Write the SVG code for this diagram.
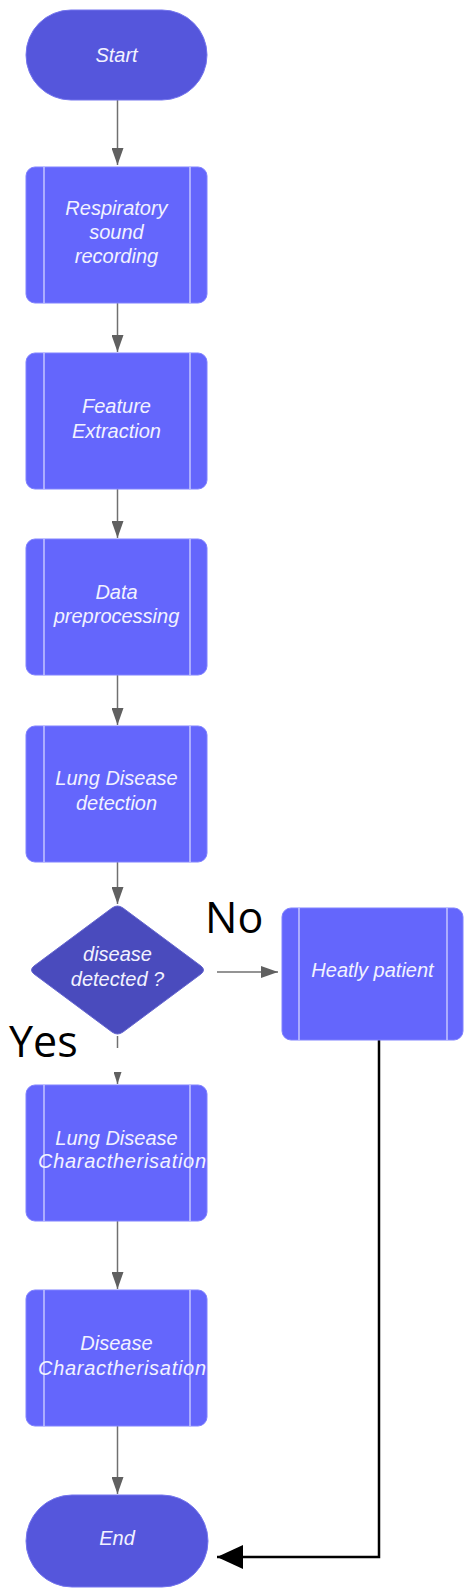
<svg xmlns="http://www.w3.org/2000/svg" width="474" height="1595" viewBox="0 0 474 1595">
<defs>
<style>
.term{fill:#5556dc;stroke:#7475ee;stroke-width:1}
.proc{fill:#6466fc;stroke:#8082ff;stroke-width:1}
.dec{fill:#4a4bbd;stroke:#6667d0;stroke-width:1}
.bar{stroke:#dcdcff;stroke-width:1.2}
.lbl{font-family:"Liberation Sans",Arial,sans-serif;font-style:italic;font-size:20px;fill:#f2f2ff;text-anchor:middle}
.big{font-family:"Open Sans","Liberation Sans",sans-serif;font-size:43px;fill:#000}
.gc{fill:none;stroke:#707070;stroke-width:1.5}
.bc{fill:none;stroke:#000;stroke-width:2.5}
</style>
<marker id="agH" viewBox="0 0 17 12" refX="17" refY="6" markerWidth="17" markerHeight="12" markerUnits="userSpaceOnUse" orient="auto">
<path d="M0,0 L17,6 L0,12 Z" fill="#606060"/>
</marker>
<marker id="ags" viewBox="0 0 12 8" refX="12" refY="4" markerWidth="12" markerHeight="8" markerUnits="userSpaceOnUse" orient="auto">
<path d="M0,0 L12,4 L0,8 Z" fill="#606060"/>
</marker>
<marker id="ab" viewBox="0 0 26 24" refX="26" refY="12" markerWidth="26" markerHeight="24" markerUnits="userSpaceOnUse" orient="auto">
<path d="M0,0 L26,12 L0,24 Z" fill="#000"/>
</marker>
</defs>
<rect width="474" height="1595" fill="#fff"/>

<g id="connectors">
<path class="gc" d="M117.5,100 V165" marker-end="url(#agH)"/>
<path class="gc" d="M117.5,303 V352" marker-end="url(#agH)"/>
<path class="gc" d="M117.5,489 V538" marker-end="url(#agH)"/>
<path class="gc" d="M117.5,675 V725" marker-end="url(#agH)"/>
<path class="gc" d="M117.5,862 V904" marker-end="url(#agH)"/>
<path class="gc" d="M217,972 H278" marker-end="url(#agH)"/>
<path class="gc" d="M117.5,1036 V1048"/>
<path class="gc" d="M117.5,1074 V1084" marker-end="url(#ags)"/>
<path class="gc" d="M117.5,1221 V1289" marker-end="url(#agH)"/>
<path class="gc" d="M117.5,1426 V1494" marker-end="url(#agH)"/>
<path class="bc" d="M379,1040 V1557 H217" marker-end="url(#ab)"/>
</g>

<g id="start">
<rect class="term" x="26" y="10" width="181" height="90" rx="45"/>
<text class="lbl" x="116.5" y="62">Start</text>
</g>

<g id="n1">
<rect class="proc" x="26" y="167" width="181" height="136" rx="9"/>
<line class="bar" x1="44" y1="167" x2="44" y2="303"/>
<line class="bar" x1="190" y1="167" x2="190" y2="303"/>
<text class="lbl" x="116.5" y="215">Respiratory</text>
<text class="lbl" x="116.5" y="239">sound</text>
<text class="lbl" x="116.5" y="263">recording</text>
</g>

<g id="n2">
<rect class="proc" x="26" y="353" width="181" height="136" rx="9"/>
<line class="bar" x1="44" y1="353" x2="44" y2="489"/>
<line class="bar" x1="190" y1="353" x2="190" y2="489"/>
<text class="lbl" x="116.5" y="413">Feature</text>
<text class="lbl" x="116.5" y="438">Extraction</text>
</g>

<g id="n3">
<rect class="proc" x="26" y="539" width="181" height="136" rx="9"/>
<line class="bar" x1="44" y1="539" x2="44" y2="675"/>
<line class="bar" x1="190" y1="539" x2="190" y2="675"/>
<text class="lbl" x="116.5" y="599">Data</text>
<text class="lbl" x="116.5" y="623">preprocessing</text>
</g>

<g id="n4">
<rect class="proc" x="26" y="726" width="181" height="136" rx="9"/>
<line class="bar" x1="44" y1="726" x2="44" y2="862"/>
<line class="bar" x1="190" y1="726" x2="190" y2="862"/>
<text class="lbl" x="116.5" y="785">Lung Disease</text>
<text class="lbl" x="116.5" y="810">detection</text>
</g>

<g id="decision">
<path class="dec" d="M112,908 Q117.5,904 123,908 L201,966 Q206,970 201,974 L123,1032 Q117.5,1036 112,1032 L34,974 Q29,970 34,966 Z"/>
<text class="lbl" x="117.5" y="961">disease</text>
<text class="lbl" x="117.5" y="986">detected ?</text>
</g>

<g id="label-no">
<text class="big" x="205" y="933">No</text>
</g>
<g id="label-yes">
<text class="big" x="9" y="1057">Yes</text>
</g>

<g id="healthy">
<rect class="proc" x="282" y="908" width="181" height="132" rx="9"/>
<line class="bar" x1="299" y1="908" x2="299" y2="1040"/>
<line class="bar" x1="447" y1="908" x2="447" y2="1040"/>
<text class="lbl" x="372.5" y="977">Heatly patient</text>
</g>

<g id="n5">
<rect class="proc" x="26" y="1085" width="181" height="136" rx="9"/>
<line class="bar" x1="44" y1="1085" x2="44" y2="1221"/>
<line class="bar" x1="190" y1="1085" x2="190" y2="1221"/>
<text class="lbl" x="116.5" y="1145">Lung Disease</text>
<text class="lbl" x="122" y="1168" textLength="168" lengthAdjust="spacing">Charactherisation</text>
</g>

<g id="n6">
<rect class="proc" x="26" y="1290" width="181" height="136" rx="9"/>
<line class="bar" x1="44" y1="1290" x2="44" y2="1426"/>
<line class="bar" x1="190" y1="1290" x2="190" y2="1426"/>
<text class="lbl" x="116.5" y="1350">Disease</text>
<text class="lbl" x="122" y="1375" textLength="168" lengthAdjust="spacing">Charactherisation</text>
</g>

<g id="end">
<rect class="term" x="26" y="1495" width="182" height="92" rx="46"/>
<text class="lbl" x="117" y="1545">End</text>
</g>
</svg>
